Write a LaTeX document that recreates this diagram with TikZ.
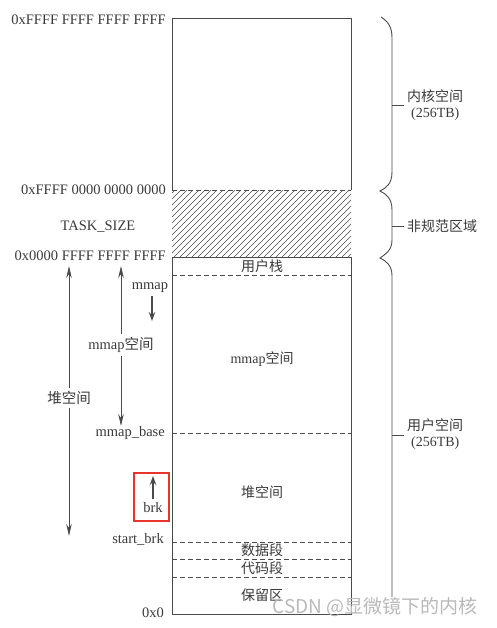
\documentclass[tikz,border=0pt]{standalone}
\usepackage{fontspec}
\setmainfont{Liberation Serif}
\newfontfamily\cjk{Noto Sans CJK SC}
\usepackage{tikz}
\usetikzlibrary{arrows.meta,positioning,calc}
\definecolor{inkGrey}{HTML}{3A3A3A}
\definecolor{lineGrey}{HTML}{4A4A4A}
\definecolor{markRed}{HTML}{E8342B}

\begin{document}
\begin{tikzpicture}[x=1pt,y=-1pt,
    every node/.style={font=\fontsize{14.5}{16}\selectfont,text=inkGrey},
    addr/.style={anchor=east,inner sep=0pt},
    seg/.style={font=\cjk\fontsize{14}{16}\selectfont},
    side/.style={anchor=west,inner sep=0pt,align=center,font=\cjk\fontsize{14}{16}\selectfont},
    wall/.style={draw=lineGrey,line width=0.9pt},
    divider/.style={draw=lineGrey,line width=0.8pt,dash pattern=on 5pt off 3pt},
    span/.style={draw=lineGrey,line width=0.8pt,{Stealth[length=12pt,width=5.5pt]}-},
    push/.style={draw=lineGrey,line width=1.3pt,-{Stealth[length=9pt,width=6.5pt]}},
    brace/.style={draw=lineGrey,line width=0.9pt}]
    \useasboundingbox (0,0) rectangle (496,628);
    % kernel part and non-canonical hole
    \draw[wall] (172,190) -- (172,18) -- (351,18) -- (351,190);
    \draw[divider] (172,190) -- (351,190);
    \begin{scope}
      \clip (172,190) rectangle (351,257);
      \foreach \i in {-70,-64,...,186}
        \draw[lineGrey,line width=0.5pt] (172+\i,257) -- (172+\i+67,190);
    \end{scope}
    % user part
    \draw[wall] (172,257) rectangle (351,614);
    \foreach \y in {275,433,542,559,577}
      \draw[divider] (172,\y) -- (351,\y);
    \node[seg] (ustack) at (262,266) {用户栈};
    \node[seg] (mmapArea) at (262,359) {\fontspec{Liberation Serif}mmap\cjk 空间};
    \node[seg] (heapArea) at (262,492) {堆空间};
    \node[seg] (dataSeg) at (262,550) {数据段};
    \node[seg] (codeSeg) at (262,568) {代码段};
    \node[seg] (resv) at (262,595) {保留区};
    % addresses
    \node[addr] (topAddr) at (166,20) {0xFFFF FFFF FFFF FFFF};
    \node[addr] (ncAddr) at (166,190) {0xFFFF 0000 0000 0000};
    \node (taskSize) at (98,227) {TASK\_SIZE};
    \node[addr] (userAddr) at (166,256) {0x0000 FFFF FFFF FFFF};
    \node[addr] (mmapBase) at (165,433) {mmap\_base};
    \node[addr] (startBrk) at (164,539) {start\_brk};
    \node[addr] (zeroAddr) at (164,613) {0x0};
    % spans on the left
    \coordinate (heapTop) at (69,266);
    \coordinate (heapBot) at (69,536);
    \node (heapLbl) at (69,398) {\cjk 堆空间};
    \draw[span] (heapTop) -- (heapLbl.north);
    \draw[span] (heapBot) -- (heapLbl.south);
    \coordinate (mmapTop) at (121,266);
    \coordinate (mmapBot) at (121,426);
    \node (mmapLbl) at (121,345) {mmap{\cjk 空间}};
    \draw[span] (mmapTop) -- (mmapLbl.north);
    \draw[span] (mmapBot) -- (mmapLbl.south);
    % growth directions
    \node (mmapDir) at (150,288) {mmap};
    \coordinate (mmapTip) at (152,321);
    \draw[push] (mmapDir.south -| mmapTip) -- (mmapTip);
    \node (brkLbl) at (153,508) {brk};
    \coordinate (brkTip) at (153,476);
    \draw[push] (brkLbl.north) -- (brkTip);
    \draw[markRed,line width=2pt] (134,473) rectangle (169,521);
    % braces on the right
    \draw[brace] (381,17) .. controls (389,22) and (392,28) .. (392,38)
      -- (392,172) .. controls (392,184) and (386,188) .. (380,191)
      .. controls (386,194) and (392,198) .. (392,210)
      -- (392,240) .. controls (392,250) and (386,254) .. (380,258)
      .. controls (386,261) and (392,265) .. (392,276) -- (392,597);
    \foreach \y in {105,226,435}
      \draw[brace] (392,\y) -- (404,\y);
    \node[side] (kernLbl) at (407,105) {内核空间\\{\fontspec{Liberation Serif}(256TB)}};
    \node[side] (ncLbl) at (407,226) {非规范区域};
    \node[side] (userLbl) at (407,434) {用户空间\\{\fontspec{Liberation Serif}(256TB)}};
    % watermark
    \node[font=\cjk\fontsize{19}{20}\selectfont,text=gray!55] (mark) at (375,607) {CSDN @显微镜下的内核};
\end{tikzpicture}
\end{document}
